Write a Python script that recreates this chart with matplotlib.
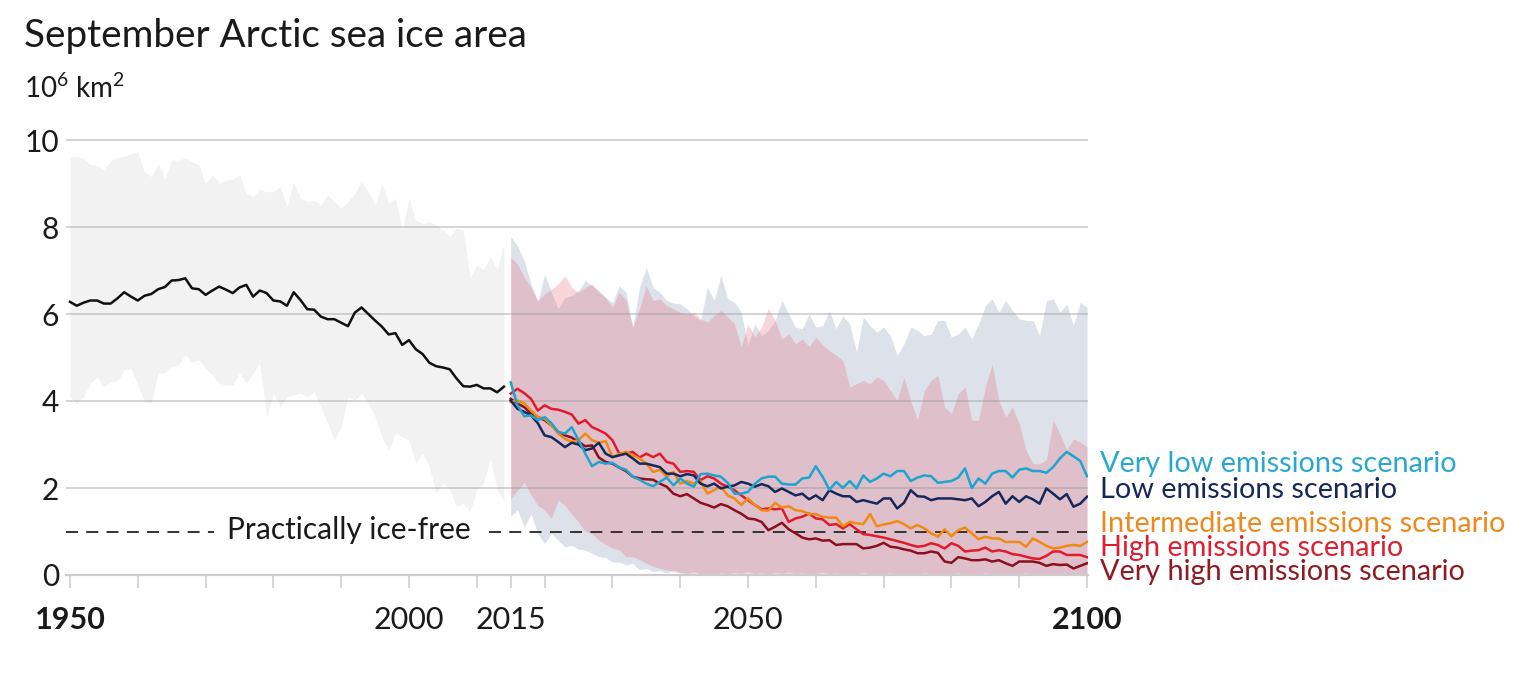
import numpy as np
import matplotlib
matplotlib.use("Agg")
import matplotlib.pyplot as plt

plt.rcParams['font.family'] = ['Lato', 'DejaVu Sans']
plt.rcParams['mathtext.fontset'] = 'custom'
plt.rcParams['mathtext.rm'] = 'Lato'
plt.rcParams['mathtext.it'] = 'Lato:italic'
plt.rcParams['lines.scale_dashes'] = False

# ---------------- data ----------------
hist_start, hist_end = 1950, 2014
proj_start, proj_end = 2015, 2100

hist_mean = [6.28, 6.19, 6.26, 6.31, 6.31, 6.24, 6.24, 6.36, 6.50, 6.40,
             6.31, 6.42, 6.46, 6.57, 6.62, 6.77, 6.78, 6.82, 6.59, 6.57,
             6.44, 6.54, 6.63, 6.56, 6.48, 6.61, 6.67, 6.40, 6.54, 6.48,
             6.31, 6.29, 6.19, 6.50, 6.32, 6.11, 6.10, 5.94, 5.88, 5.88,
             5.80, 5.72, 6.03, 6.15, 6.00, 5.85, 5.71, 5.53, 5.56, 5.29,
             5.40, 5.19, 5.08, 4.88, 4.80, 4.77, 4.73, 4.52, 4.34, 4.33,
             4.37, 4.29, 4.29, 4.20, 4.33]
hist_upper = [9.62, 9.62, 9.58, 9.44, 9.41, 9.33, 9.52, 9.60, 9.63, 9.68,
              9.73, 9.25, 9.16, 9.46, 9.12, 9.54, 9.54, 9.58, 9.50, 9.43,
              9.00, 9.20, 9.00, 9.08, 9.10, 9.20, 8.77, 8.70, 8.87, 8.81,
              8.81, 8.93, 8.47, 9.04, 8.66, 8.58, 8.62, 8.51, 8.74, 8.58,
              8.43, 8.58, 8.77, 9.04, 8.81, 8.51, 9.00, 8.54, 8.66, 7.93,
              8.66, 8.16, 8.08, 8.12, 8.05, 7.93, 7.78, 7.97, 7.93, 6.82,
              7.13, 7.01, 7.32, 7.01, 7.62]
hist_lower = [4.10, 3.95, 4.10, 4.41, 4.56, 4.33, 4.44, 4.47, 4.71, 4.75,
              4.37, 3.98, 3.95, 4.64, 4.65, 4.79, 4.83, 5.06, 4.90, 4.94,
              4.75, 4.60, 4.41, 4.37, 4.37, 4.64, 4.41, 4.64, 4.87, 3.64,
              4.18, 3.87, 4.10, 4.14, 4.18, 4.10, 4.21, 3.87, 3.49, 3.10,
              3.41, 4.10, 4.02, 4.18, 3.95, 3.64, 3.18, 2.87, 3.26, 3.18,
              3.10, 2.57, 2.80, 2.49, 1.88, 2.11, 1.95, 1.57, 1.65, 1.46,
              1.95, 2.11, 2.68, 1.95, 1.69]

very_low = [4.43, 3.90, 3.65, 3.67, 3.56, 3.63, 3.49, 3.29, 3.25, 3.40,
            3.10, 2.79, 2.50, 2.60, 2.56, 2.58, 2.47, 2.42, 2.26, 2.19,
            2.10, 2.04, 2.14, 2.24, 2.06, 2.22, 2.10, 2.03, 2.32, 2.33,
            2.29, 2.26, 2.12, 1.87, 1.87, 1.91, 2.10, 2.22, 2.26, 2.26,
            2.10, 2.08, 2.08, 2.22, 2.24, 2.50, 2.26, 1.96, 2.14, 2.00,
            2.16, 1.99, 2.29, 2.14, 2.22, 2.33, 2.27, 2.39, 2.39, 2.16,
            2.24, 2.29, 2.27, 2.12, 2.14, 2.16, 2.24, 2.45, 2.00, 2.22,
            2.10, 2.33, 2.39, 2.39, 2.24, 2.42, 2.45, 2.39, 2.39, 2.35,
            2.48, 2.68, 2.83, 2.73, 2.62, 2.27]
low = [4.01, 3.82, 3.75, 3.67, 3.49, 3.21, 3.17, 3.06, 2.94, 3.04,
       3.00, 2.87, 2.91, 3.04, 2.79, 2.71, 2.75, 2.79, 2.68, 2.56,
       2.56, 2.52, 2.48, 2.33, 2.33, 2.27, 2.32, 2.29, 2.10, 2.04,
       2.10, 1.99, 2.03, 2.06, 2.14, 2.10, 2.03, 2.09, 2.04, 1.91,
       1.99, 1.91, 1.83, 1.87, 1.74, 1.83, 1.72, 1.95, 1.87, 1.81,
       1.81, 1.68, 1.72, 1.68, 1.64, 1.76, 1.76, 1.53, 1.66, 1.95,
       1.81, 1.80, 1.72, 1.76, 1.76, 1.76, 1.74, 1.72, 1.76, 1.58,
       1.68, 1.81, 1.91, 1.64, 1.81, 1.68, 1.81, 1.74, 1.64, 1.99,
       1.87, 1.74, 1.86, 1.57, 1.64, 1.80]
intermediate = [3.98, 4.01, 3.95, 3.78, 3.63, 3.59, 3.44, 3.25, 3.13, 3.06,
                3.10, 3.25, 3.10, 3.04, 3.08, 2.71, 2.78, 2.83, 2.75, 2.68,
                2.56, 2.37, 2.42, 2.26, 2.37, 2.10, 2.16, 2.10, 2.16, 1.87,
                1.95, 2.03, 1.83, 1.76, 1.61, 1.76, 1.61, 1.49, 1.48, 1.66,
                1.55, 1.58, 1.49, 1.47, 1.40, 1.40, 1.34, 1.32, 1.32, 1.12,
                1.22, 1.19, 1.17, 1.40, 1.12, 1.16, 1.19, 1.24, 1.17, 1.07,
                1.15, 1.07, 0.96, 0.88, 1.05, 0.89, 1.03, 1.09, 0.96, 0.82,
                0.88, 0.84, 0.84, 0.76, 0.76, 0.76, 0.65, 0.84, 0.76, 0.67,
                0.61, 0.63, 0.67, 0.69, 0.67, 0.76]
high = [4.17, 4.28, 4.18, 4.05, 3.78, 3.90, 3.82, 3.80, 3.75, 3.69,
        3.48, 3.56, 3.40, 3.33, 3.25, 3.10, 2.79, 2.79, 2.83, 2.70,
        2.79, 2.71, 2.79, 2.60, 2.56, 2.37, 2.39, 2.37, 2.18, 2.27,
        2.22, 2.10, 2.03, 1.95, 1.83, 1.72, 1.61, 1.51, 1.53, 1.51,
        1.53, 1.22, 1.30, 1.34, 1.41, 1.30, 1.28, 1.15, 1.17, 1.07,
        1.17, 1.05, 0.94, 0.92, 0.89, 0.86, 0.82, 0.78, 0.74, 0.69,
        0.65, 0.67, 0.73, 0.69, 0.61, 0.73, 0.67, 0.54, 0.56, 0.57,
        0.63, 0.54, 0.57, 0.54, 0.48, 0.46, 0.42, 0.38, 0.37, 0.44,
        0.54, 0.54, 0.46, 0.46, 0.46, 0.41]
very_high = [4.05, 3.94, 3.86, 3.71, 3.63, 3.56, 3.44, 3.29, 3.21, 3.16,
             3.06, 2.96, 2.98, 2.70, 2.60, 2.56, 2.47, 2.39, 2.26, 2.22,
             2.20, 2.19, 2.10, 2.03, 1.87, 1.81, 1.86, 1.76, 1.66, 1.61,
             1.55, 1.63, 1.58, 1.49, 1.41, 1.30, 1.28, 1.22, 1.03, 1.11,
             1.20, 1.05, 0.96, 0.86, 0.82, 0.84, 0.79, 0.80, 0.69, 0.71,
             0.71, 0.71, 0.61, 0.63, 0.67, 0.74, 0.65, 0.63, 0.59, 0.56,
             0.50, 0.50, 0.54, 0.51, 0.31, 0.28, 0.41, 0.38, 0.34, 0.34,
             0.36, 0.31, 0.34, 0.27, 0.21, 0.31, 0.31, 0.31, 0.28, 0.21,
             0.25, 0.23, 0.24, 0.15, 0.21, 0.27]

low_range_upper = [7.78, 7.57, 7.22, 6.69, 6.27, 6.92, 6.50, 6.12, 6.38, 6.42,
                   6.54, 6.77, 6.65, 6.54, 6.38, 6.27, 6.65, 6.50, 5.70, 6.61,
                   7.07, 6.61, 6.50, 6.31, 6.25, 6.23, 6.12, 5.96, 5.85, 6.61,
                   6.31, 6.88, 6.35, 6.27, 6.04, 5.28, 5.77, 5.50, 5.62, 5.85,
                   6.31, 6.00, 5.70, 5.66, 6.00, 5.70, 5.73, 6.08, 5.66, 5.96,
                   5.77, 5.12, 5.93, 5.73, 5.58, 5.70, 5.50, 5.05, 5.31, 5.70,
                   5.62, 5.50, 5.54, 5.85, 5.85, 5.47, 5.54, 5.70, 5.43, 5.77,
                   6.19, 6.35, 6.04, 6.31, 6.08, 5.89, 5.85, 5.85, 5.50, 6.31,
                   6.35, 6.04, 6.23, 5.73, 6.27, 6.15]
low_range_lower = [1.35, 1.50, 1.10, 1.40, 0.95, 0.72, 0.95, 0.80, 0.65, 0.68,
                   0.60, 0.57, 0.50, 0.42, 0.40, 0.30, 0.30, 0.23, 0.27, 0.12,
                   0.15, 0.08, 0.10, 0.05, 0.12, 0.05, 0.03, 0.08, 0.02, 0.04,
                   0.02, 0.05, 0.03, 0.06, 0.04, 0.08, 0.03, 0.05, 0.02, 0.06,
                   0.04, 0.07, 0.03, 0.05, 0.02, 0.04, 0.06, 0.03, 0.05, 0.02,
                   0.04, 0.03, 0.06, 0.02, 0.04, 0.03, 0.05, 0.02, 0.04, 0.03,
                   0.02, 0.05, 0.03, 0.04, 0.02, 0.03, 0.05, 0.02, 0.04, 0.03,
                   0.05, 0.02, 0.03, 0.04, 0.02, 0.03, 0.05, 0.02, 0.03, 0.04,
                   0.02, 0.03, 0.02, 0.04, 0.03, 0.02]
high_range_upper = [7.30, 7.15, 6.84, 6.61, 6.31, 6.46, 6.57, 6.69, 6.88, 6.61,
                    6.50, 6.61, 6.69, 6.50, 6.38, 6.15, 6.50, 6.31, 5.70, 6.12,
                    6.65, 6.31, 6.35, 6.19, 6.12, 6.04, 6.00, 6.04, 5.89, 5.81,
                    5.96, 6.08, 5.93, 5.77, 5.24, 5.77, 5.47, 5.70, 6.12, 5.85,
                    5.43, 5.54, 5.31, 5.43, 5.25, 5.47, 5.28, 5.16, 5.05, 4.93,
                    4.32, 4.40, 4.47, 4.40, 4.55, 4.47, 4.24, 4.01, 4.55, 4.01,
                    3.56, 4.24, 4.47, 4.59, 3.86, 3.71, 4.17, 4.32, 3.56, 3.56,
                    4.32, 4.85, 4.01, 3.63, 3.86, 3.48, 2.87, 2.56, 2.56, 2.64,
                    3.56, 3.25, 2.87, 3.13, 3.06, 2.94]
high_range_lower = [1.75, 1.95, 2.12, 1.85, 1.60, 1.50, 1.30, 1.72, 1.60, 1.40,
                    1.22, 1.00, 0.95, 0.80, 0.70, 0.62, 0.58, 0.42, 0.42, 0.35,
                    0.27, 0.20, 0.15, 0.12, 0.08, 0.05, 0.04, 0.03, 0.02, 0.02,
                    0.01, 0.00, 0.00, 0.00, 0.00, 0.00, 0.00, 0.00, 0.00, 0.00,
                    0.00, 0.00, 0.00, 0.00, 0.00, 0.00, 0.00, 0.00, 0.00, 0.00,
                    0.00, 0.00, 0.00, 0.00, 0.00, 0.00, 0.00, 0.00, 0.00, 0.00,
                    0.00, 0.00, 0.00, 0.00, 0.00, 0.00, 0.00, 0.00, 0.00, 0.00,
                    0.00, 0.00, 0.00, 0.00, 0.00, 0.00, 0.00, 0.00, 0.00, 0.00,
                    0.00, 0.00, 0.00, 0.00, 0.00, 0.00]

scenario_names = ["Very low emissions scenario", "Low emissions scenario",
                  "Intermediate emissions scenario", "High emissions scenario",
                  "Very high emissions scenario"]
scenario_colors = ["#1ea5cf", "#16275a", "#f08a12", "#e11a2c", "#8b0f1e"]
label_colors = ["#2aa7cf", "#16275a", "#ee8a1d", "#dd1f33", "#8e1a22"]
label_baselines = [2.37, 1.78, 1.00, 0.44, -0.11]

ice_free_level = 1.0
xtick_labels = {1950: "1950", 2000: "2000", 2015: "2015", 2050: "2050", 2100: "2100"}
ytick_values = [0, 2, 4, 6, 8, 10]

hist_years = np.arange(hist_start, hist_end + 1)
proj_years = np.arange(proj_start, proj_end + 1)

# ---------------- figure ----------------
W_PX, H_PX = 1536, 693
fig = plt.figure(figsize=(W_PX / 100, H_PX / 100), dpi=100)
x0, x1 = 1949.4, 2100.2
y0, y1 = 0, 10.3
left_px, right_px = 65.9, 1088.4
bottom_px, top_px = 575, 575 - 10.3 * 43.5
ax = fig.add_axes([left_px / W_PX, (H_PX - bottom_px) / H_PX,
                   (right_px - left_px) / W_PX, (bottom_px - top_px) / H_PX])
ax.set_xlim(x0, x1)
ax.set_ylim(y0, y1)

TXT = "#1a1a1a"

# bands
ax.fill_between(hist_years, hist_lower, hist_upper, color="#f2f2f2", lw=0, zorder=1)
ax.fill_between(proj_years, low_range_lower, low_range_upper, color="#dde1e9", lw=0, zorder=2)
ax.fill_between(proj_years, high_range_lower, high_range_upper, color="#e75b6f",
                alpha=0.25, lw=0, zorder=3)

# gridlines
for yv in ytick_values[1:]:
    ax.axhline(yv, color="#9a9a9a", alpha=0.45, lw=1.3, zorder=4)

# ice-free dashed line, broken by the label
ax.plot([x0, 1971.3], [ice_free_level] * 2, color="#333333", lw=1.4,
        dashes=(8.6, 6.0), zorder=5)
ax.plot([2011.8, 2100], [ice_free_level] * 2, color="#333333", lw=1.4,
        dashes=(8.6, 6.0), zorder=5)
ax.text(1973.2, 0.83, "Practically ice-free", fontsize=21.5, color=TXT,
        ha="left", va="baseline", zorder=6)

# lines
ax.plot(hist_years, hist_mean, color="#111111", lw=1.8, zorder=7)
series = [very_low, low, intermediate, high, very_high]
for vals, col in zip(series[::-1], scenario_colors[::-1]):
    ax.plot(proj_years, vals, color=col, lw=1.8, zorder=7)

# scenario labels
for name, col, yb in zip(scenario_names, label_colors, label_baselines):
    ax.text(2101.9, yb, name, color=col, fontsize=20.8, ha="left",
            va="baseline", clip_on=False)

# axes styling
for s in ["left", "top", "right"]:
    ax.spines[s].set_visible(False)
ax.spines["bottom"].set_color("#cccccc")
ax.spines["bottom"].set_linewidth(1.6)
ax.spines["bottom"].set_zorder(8)

xt = sorted(set(list(range(1950, 2101, 10)) + [2015]))
ax.set_xticks(xt)
ax.set_xticklabels([xtick_labels.get(v, "") for v in xt])
ax.tick_params(axis="x", direction="out", length=9, width=1.1, color="#cccccc",
               pad=13, labelsize=22, labelcolor=TXT)
for lab, v in zip(ax.get_xticklabels(), xt):
    if v in (1950, 2100):
        lab.set_fontweight("bold")

ax.set_yticks(ytick_values)
ax.set_yticklabels([str(v) for v in ytick_values])
ax.tick_params(axis="y", length=0, pad=5, labelsize=21.5, labelcolor=TXT)

# titles
fig.text(24 / W_PX, 1 - 47 / H_PX, "September Arctic sea ice area", fontsize=27.8,
         color=TXT, ha="left", va="baseline")
fig.text(24 / W_PX, 1 - 98 / H_PX, r"$\mathrm{10^6\ km^2}$", fontsize=20,
         color=TXT, ha="left", va="baseline")

fig.savefig("out.png", dpi=100, facecolor="white")
